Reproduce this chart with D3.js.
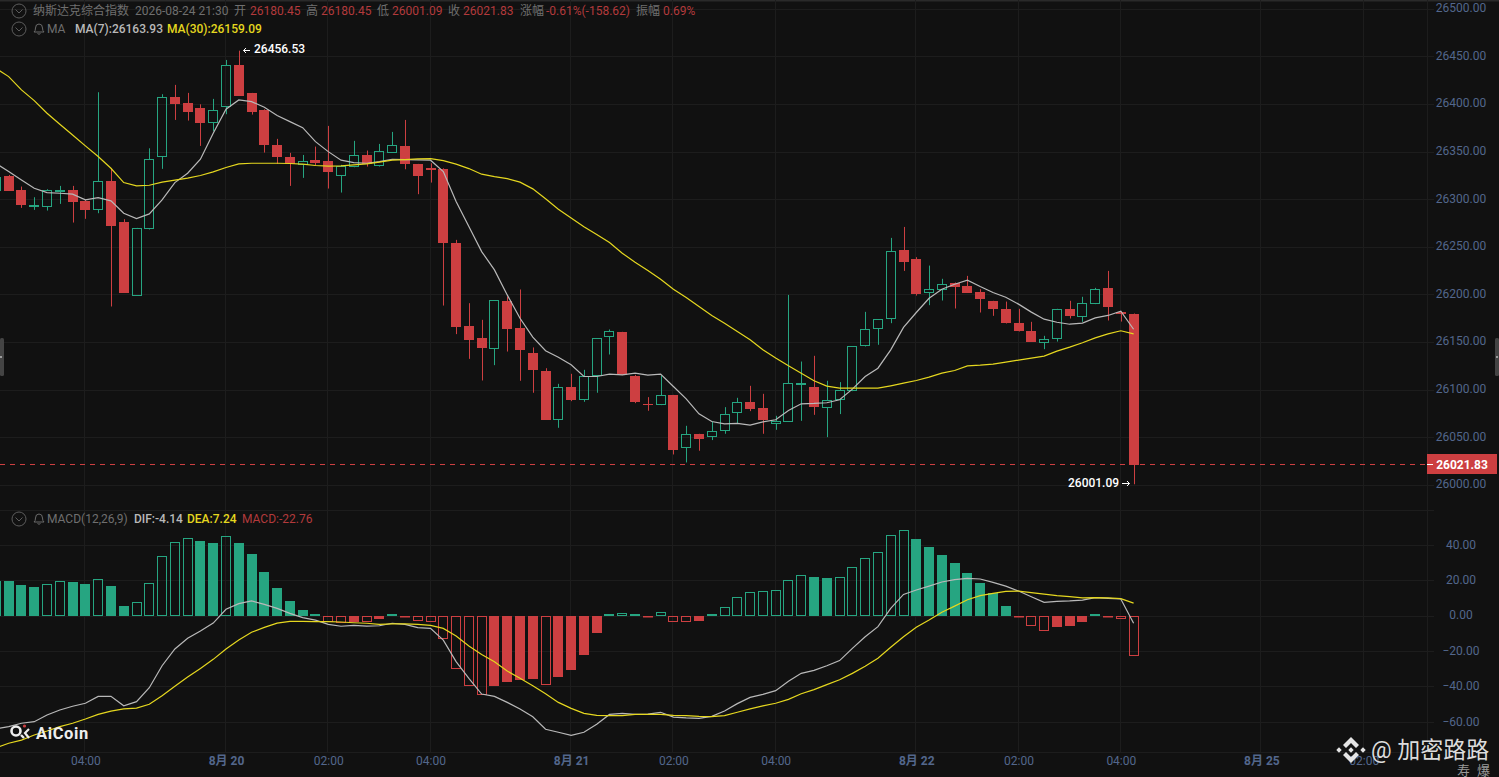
<!DOCTYPE html>
<html><head><meta charset="utf-8">
<script src="https://cdn.jsdelivr.net/npm/d3@7/dist/d3.min.js"></script>
<style>
html,body{margin:0;padding:0;background:#111;overflow:hidden}
svg{display:block}
text{font-family:Roboto,"Noto Sans CJK SC",sans-serif}
</style></head><body>
<svg id="c" width="1499" height="777"></svg>
<script>
// slot 0 is the partly hidden candle at the left edge
const opens=[26309.6,26325.0,26310.3,26292.8,26292.8,26308.5,26310.0,26298.8,26289.6,26319.4,
26276.7,26199.3,26268.7,26344.6,26407.6,26401.6,26396.4,26381.0,26397.1,26441.6,
26412.2,26394.0,26357.6,26345.0,26336.9,26341.8,26340.4,26325.4,26334.1,26347.0,
26335.9,26349.5,26356.5,26337.6,26333.0,26332.3,26254.7,26167.5,26154.6,26143.0,
26193.8,26165.4,26139.2,26120.2,26068.5,26103.5,26090.1,26114.3,26155.6,26161.2,
26115.0,26085.6,26084.2,26095.0,26038.7,26054.1,26050.3,26056.9,26075.8,26087.4,
26081.4,26064.3,26067.0,26105.9,26103.5,26080.7,26090.1,26098.9,26145.8,26164.0,
26174.2,26247.3,26237.9,26202.5,26204.9,26212.3,26209.5,26202.8,26193.8,26185.4,
26170.6,26162.3,26150.0,26153.5,26185.0,26176.6,26190.3,26207.0,26181.8,26180.45];
const closes=[26324.3,26309.2,26294.6,26294.2,26310.0,26310.0,26298.0,26289.3,26319.4,26272.5,
26202.5,26270.0,26342.5,26407.6,26400.6,26392.6,26380.6,26394.0,26441.2,26409.0,
26392.6,26357.9,26345.0,26337.3,26341.1,26338.7,26329.2,26335.9,26346.7,26337.6,
26350.9,26357.2,26337.9,26325.4,26331.3,26255.0,26165.8,26153.1,26143.7,26194.5,
26163.7,26141.6,26120.6,26069.1,26103.1,26090.1,26114.7,26154.6,26161.9,26115.7,
26087.0,26083.9,26094.7,26037.6,26053.8,26048.2,26056.9,26074.8,26087.4,26080.4,
26068.8,26067.4,26107.3,26107.3,26081.8,26089.1,26100.0,26146.2,26164.0,26174.5,
26245.9,26234.7,26201.4,26206.0,26211.2,26207.8,26202.5,26195.2,26185.7,26170.0,
26161.6,26151.0,26153.5,26185.0,26178.3,26191.3,26206.0,26187.8,26180.4,26021.83];
const highs=[26326.0,26326.0,26313.8,26302.6,26311.0,26314.5,26314.5,26299.8,26412.9,26333.0,
26279.5,26270.4,26354.0,26410.8,26420.6,26412.2,26400.2,26405.9,26446.8,26456.53,
26412.2,26395.0,26363.9,26349.2,26347.0,26355.8,26377.5,26336.6,26361.8,26351.6,
26358.6,26371.2,26383.8,26337.6,26338.3,26333.0,26257.8,26191.3,26173.8,26194.5,
26198.3,26205.7,26144.8,26123.0,26106.6,26117.1,26121.3,26154.6,26163.7,26161.2,
26116.0,26092.6,26115.4,26095.0,26062.5,26054.1,26067.0,26082.1,26091.9,26104.5,
26096.1,26073.0,26200.0,26130.0,26136.0,26109.8,26108.4,26146.2,26182.2,26174.5,
26259.9,26271.4,26239.6,26230.8,26216.9,26213.0,26220.0,26206.0,26193.8,26193.0,
26185.4,26171.7,26157.0,26185.4,26193.8,26198.0,26207.4,26225.2,26182.5,26180.45];
const lows=[26305.0,26309.2,26291.4,26289.3,26288.6,26295.6,26276.0,26279.9,26285.8,26187.8,
26202.5,26199.3,26268.7,26332.4,26383.8,26383.1,26356.5,26371.9,26389.8,26409.0,
26389.4,26349.5,26337.6,26314.5,26322.9,26336.2,26311.7,26307.5,26334.1,26334.8,
26334.8,26349.5,26332.0,26305.8,26318.0,26188.8,26158.8,26132.8,26110.1,26126.2,
26140.5,26109.8,26097.2,26069.1,26060.4,26088.4,26087.7,26097.2,26137.4,26115.7,
26086.3,26078.3,26084.2,26032.4,26024.0,26036.3,26047.5,26054.1,26065.3,26077.9,
26054.1,26058.3,26067.0,26067.7,26074.0,26050.6,26074.8,26098.9,26145.8,26147.6,
26170.3,26225.2,26199.3,26189.2,26194.1,26185.7,26202.5,26181.5,26178.0,26170.0,
26161.6,26151.0,26143.0,26151.0,26175.2,26171.7,26190.3,26173.1,26172.0,26001.09];
const ma7=[26338.3,26329.5,26320.8,26312.0,26307.5,26306.8,26305.8,26299.8,26302.2,26298.8,
26285.8,26280.2,26285.1,26299.8,26318.0,26327.8,26342.5,26369.8,26395.0,26404.8,
26403.0,26397.1,26388.4,26382.0,26375.7,26361.0,26350.5,26341.5,26339.0,26338.3,
26340.0,26342.5,26342.2,26341.8,26341.5,26329.5,26298.0,26271.8,26245.5,26226.3,
26200.0,26175.5,26155.6,26141.3,26134.6,26126.6,26114.3,26114.3,26116.8,26116.0,
26117.8,26115.7,26116.8,26103.8,26090.8,26075.1,26067.0,26064.6,26065.0,26063.2,
26066.7,26068.8,26078.6,26085.6,26086.0,26086.7,26089.8,26101.0,26114.3,26123.0,
26142.3,26165.8,26181.5,26196.5,26206.0,26211.2,26215.5,26208.8,26202.5,26197.6,
26190.3,26181.9,26174.5,26171.3,26169.2,26170.3,26175.9,26178.4,26182.9,26163.93];
const ma30=[26438.0,26429.3,26415.3,26404.1,26390.8,26379.2,26368.0,26356.5,26345.3,26333.0,
26318.0,26314.5,26315.2,26318.4,26320.5,26322.6,26325.4,26329.2,26333.8,26337.6,
26338.3,26338.3,26338.3,26338.0,26337.3,26335.9,26335.2,26335.5,26336.6,26337.6,
26339.4,26341.5,26342.2,26342.9,26343.2,26341.1,26337.3,26332.7,26326.8,26324.3,
26322.2,26318.4,26311.4,26300.9,26290.0,26280.9,26271.5,26263.4,26255.0,26243.8,
26234.3,26225.6,26216.5,26206.0,26197.2,26187.8,26178.3,26170.3,26161.6,26152.8,
26142.3,26133.6,26125.5,26117.8,26109.8,26104.2,26102.0,26102.0,26102.0,26102.0,
26104.5,26107.3,26110.1,26113.6,26117.8,26120.6,26125.5,26126.2,26127.3,26129.3,
26131.5,26133.6,26135.7,26140.9,26145.1,26149.7,26154.9,26159.1,26162.3,26159.09];
const macdHist=[19.8,19.8,17.5,16.4,17.9,19.6,19.2,18.1,20.7,16.9,
5.6,7.7,18.5,33.7,41.6,43.9,42.4,41.2,45.0,41.2,
35.0,24.9,15.8,8.5,3.4,1.1,-3.2,-4.1,-3.4,-3.5,
-1.5,1.1,-0.6,-2.6,-3.2,-12.8,-29.8,-39.7,-44.8,-39.4,
-37.3,-36.2,-35.6,-38.8,-34.5,-30.5,-21.8,-9.4,0.9,1.9,
0.9,-0.6,2.1,-3.2,-3.3,-2.8,0.9,4.9,10.5,13.4,
13.9,14.5,20.2,23.0,22.0,21.5,21.8,27.5,32.6,36.0,
45.6,48.4,43.5,39.0,34.5,29.9,24.3,18.6,13.0,5.5,
-0.7,-5.5,-8.3,-6.0,-5.5,-3.2,1.1,-0.6,-1.5,-22.76];
const dif=[-63.8,-62.5,-60.6,-59.7,-55.9,-53.1,-51.0,-49.3,-45.4,-45.4,
-50.7,-48.4,-40.5,-28.1,-18.6,-12.6,-8.5,-4.0,3.8,7.0,
8.5,6.6,4.3,1.5,-0.9,-2.3,-4.7,-5.8,-5.3,-5.7,
-5.5,-4.1,-4.7,-6.6,-7.0,-13.6,-25.8,-35.2,-44.1,-45.4,
-48.8,-52.5,-56.9,-64.0,-65.7,-67.4,-65.7,-61.2,-55.6,-55.0,
-55.6,-55.4,-54.4,-57.1,-57.6,-57.8,-56.7,-53.7,-49.5,-46.0,
-44.3,-42.2,-36.9,-32.4,-30.7,-28.1,-25.2,-18.3,-11.7,-6.0,
4.3,12.2,14.7,16.9,19.2,20.5,21.3,20.9,19.0,16.9,
14.1,10.9,7.7,8.3,8.5,9.0,10.4,10.0,9.6,-4.14];
const dea=[-74.4,-71.9,-70.1,-67.2,-65.0,-62.5,-60.6,-58.2,-55.6,-53.7,
-52.5,-52.0,-49.9,-45.0,-39.7,-34.5,-29.6,-24.5,-18.6,-13.6,
-9.2,-6.4,-4.0,-3.0,-3.0,-3.2,-3.2,-3.4,-3.8,-4.1,
-4.7,-4.5,-4.5,-4.7,-5.3,-7.0,-11.3,-17.0,-21.7,-25.8,
-31.1,-35.2,-39.4,-43.9,-48.8,-52.2,-55.0,-56.1,-56.3,-56.3,
-55.6,-55.6,-55.6,-56.1,-56.3,-56.7,-56.9,-56.3,-54.4,-52.5,
-50.8,-49.3,-47.1,-43.9,-41.6,-38.8,-36.0,-32.4,-28.4,-23.9,
-17.7,-11.7,-6.4,-2.3,2.1,5.6,9.2,11.5,12.8,13.9,
14.1,13.2,12.4,11.5,10.9,10.2,10.4,10.2,9.8,7.24];
const priceTicks=[26000,26050,26100,26150,26200,26250,26300,26350,26400,26450,26500];
const macdTicks=[-60,-40,-20,0,20,40];
const timeTickSlots=[7,18,26,34,45,53,61,72,80,88,99,107];
const timeTickLabels=["04:00","8月 20","02:00","04:00","8月 21","02:00","04:00","8月 22","02:00","04:00","8月 25","02:00"];
const lastClose=26021.83, highMark=26456.53, lowMark=26001.09;

const RED="#cd3f41",GREEN="#26a581",GRID="#1d1d1d",AXIS="#53678c",GREY="#6f6f6f",LGREY="#b9b9b9",YEL="#e5d71f";
const svg=d3.select("#c");
const W=1499,H=777,AX=1427;
svg.append("rect").attr("width",W).attr("height",H).attr("fill","#111");
svg.append("rect").attr("width",W).attr("height",1.5).attr("fill","#2a2a2a");

const x=d3.scaleLinear().domain([0,89]).range([-4.1,1133.6]);
const py=d3.scaleLinear().domain([26000,26500]).range([485.3,9.3]);
const my=d3.scaleLinear().domain([-60,40]).range([722.2,545.2]);
const cr=v=>Math.floor(v)+.5;
const px=i=>Math.round(x(i));

// grid
const grid=svg.append("g").attr("stroke",GRID).attr("stroke-width",1);
timeTickSlots.forEach(s=>grid.append("line").attr("x1",cr(x(s)-.5)).attr("x2",cr(x(s)-.5)).attr("y1",0).attr("y2",752));
grid.append("line").attr("x1",AX+.5).attr("x2",AX+.5).attr("y1",0).attr("y2",752);
priceTicks.forEach(t=>grid.append("line").attr("x1",0).attr("x2",AX+7).attr("y1",cr(py(t))).attr("y2",cr(py(t))));
macdTicks.forEach(t=>grid.append("line").attr("x1",0).attr("x2",AX+7).attr("y1",cr(my(t))).attr("y2",cr(my(t))));
grid.append("line").attr("x1",0).attr("x2",AX+7).attr("y1",510.5).attr("y2",510.5);
grid.append("line").attr("x1",0).attr("x2",AX+7).attr("y1",752.5).attr("y2",752.5);

// price dashed line
svg.append("line").attr("x1",0).attr("x2",AX).attr("y1",cr(py(lastClose))).attr("y2",cr(py(lastClose)))
  .attr("stroke",RED).attr("stroke-dasharray","5,5");

// candles
const cg=svg.append("g");
opens.forEach((o,i)=>{
  const c=closes[i],up=c>=o,col=up?GREEN:RED,hi=Math.max(o,c),lo=Math.min(o,c),X=px(i);
  const top=Math.round(py(hi)),bot=Math.round(py(lo));
  cg.append("line").attr("x1",X+.5).attr("x2",X+.5).attr("y1",py(highs[i])).attr("y2",top).attr("stroke",col);
  cg.append("line").attr("x1",X+.5).attr("x2",X+.5).attr("y1",bot).attr("y2",py(lows[i])).attr("stroke",col);
  if(up) cg.append("rect").attr("x",X-4.5).attr("y",top+.5).attr("width",9).attr("height",Math.max(bot-top-1,1)).attr("fill","none").attr("stroke",col);
  else cg.append("rect").attr("x",X-5).attr("y",top).attr("width",10).attr("height",Math.max(bot-top,1)).attr("fill",col);
});

// histogram
const hg=svg.append("g"),z=my(0);
macdHist.forEach((v,i)=>{
  const prev=i?macdHist[i-1]:v,col=v>=0?GREEN:RED,X=px(i);
  const grow=Math.abs(v)>Math.abs(prev)&&(v>=0)===(prev>=0)||(v>=0)!==(prev>=0)&&Math.abs(v)>2;
  const y1=Math.min(my(v),z),h=Math.abs(my(v)-z);
  if(grow) hg.append("rect").attr("x",X-4.5).attr("y",Math.round(y1)+.5).attr("width",9).attr("height",Math.max(Math.round(h)-1,1)).attr("fill","none").attr("stroke",col);
  else hg.append("rect").attr("x",X-5).attr("y",Math.round(y1)).attr("width",10).attr("height",Math.max(Math.round(h),1.5)).attr("fill",col);
});

// lines
const lineOf=(arr,sc)=>d3.line().x((d,i)=>x(i)).y(d=>sc(d))(arr);
[[ma7,py,LGREY],[ma30,py,YEL],[dif,my,LGREY],[dea,my,YEL]].forEach(([a,s,c])=>
  svg.append("path").attr("d",lineOf(a,s)).attr("fill","none").attr("stroke",c).attr("stroke-width",1.2));

// axes
const styleAxis=g=>{g.select(".domain").remove();g.selectAll("line").remove();
  g.selectAll("text").attr("fill",AXIS).attr("font-size",12).attr("text-anchor","middle").attr("font-family",'Roboto,"Noto Sans CJK SC",sans-serif');};
svg.append("g").attr("transform","translate(1461,-1.5)").call(d3.axisRight(py).tickValues(priceTicks).tickFormat(d3.format(".2f")).tickSize(0).tickPadding(0)).call(styleAxis);
svg.append("g").attr("transform","translate(1461,-1)").call(d3.axisRight(my).tickValues(macdTicks).tickFormat(d3.format(".2f")).tickSize(0).tickPadding(0)).call(styleAxis);
const tAxis=d3.axisBottom(x).tickValues(timeTickSlots).tickFormat((d,i)=>timeTickLabels[i]).tickSize(0).tickPadding(0);
svg.append("g").attr("transform","translate(0,751)").call(tAxis).call(styleAxis).selectAll("text").attr("y",5)
  .attr("font-weight",(d,i)=>timeTickLabels[i].includes("月")?"700":"400");

// last price tag
svg.append("rect").attr("x",AX).attr("y",454).attr("width",70).attr("height",20).attr("fill",RED);
svg.append("line").attr("x1",AX).attr("x2",AX+6).attr("y1",cr(py(lastClose))).attr("y2",cr(py(lastClose))).attr("stroke","#fff");
const T=(s,xp,yp,col,opt={})=>svg.append("text").attr("x",xp).attr("y",yp).attr("fill",col).attr("font-size",opt.size||12)
  .attr("font-weight",opt.w||400).attr("text-anchor",opt.a||"start").attr("opacity",opt.o||1).text(s);
T(d3.format(".2f")(lastClose),1462,468.5,"#fff",{a:"middle",w:700});

// high/low marks
svg.append("path").attr("d","M250 50.5H243.5M246 48L243.5 50.5L246 53").attr("fill","none").attr("stroke","#fff");
T(d3.format(".2f")(highMark),254,53,"#fff",{w:500});
T(d3.format(".2f")(lowMark),1068,487,"#fff",{w:500});
svg.append("path").attr("d","M1122 483.5H1129.5M1127 481L1129.5 483.5L1127 486").attr("fill","none").attr("stroke","#fff");

// header texts
const R2="#b33a3c";
[["纳斯达克综合指数",33,GREY],["2026-08-24 21:30",135,GREY],["开",234,GREY],["26180.45",250,R2],["高",306,GREY],["26180.45",321,R2],
 ["低",377,GREY],["26001.09",392,R2],["收",448,GREY],["26021.83",463,R2],["涨幅",520,GREY],["-0.61%(-158.62)",546,R2],["振幅",636,GREY],["0.69%",663,R2]]
 .forEach(([s,a,c])=>T(s,a,15,c));
T("MA",47,33,GREY);T("MA(7):26163.93",75,33,LGREY,{w:500});T("MA(30):26159.09",167,33,YEL,{w:500});
T("MACD(12,26,9)",47,523,GREY);T("DIF:-4.14",134,523,LGREY,{w:500});T("DEA:7.24",187,523,YEL,{w:500});T("MACD:-22.76",242,523,R2);

// small icons
const chev=(cx,cy)=>{svg.append("circle").attr("cx",cx).attr("cy",cy).attr("r",7).attr("fill","none").attr("stroke","#5c5c5c");
  svg.append("path").attr("d",`M${cx-3.5} ${cy-1.5}L${cx} ${cy+2}L${cx+3.5} ${cy-1.5}`).attr("fill","none").attr("stroke","#5c5c5c");};
const bell=(cx,cy)=>svg.append("path").attr("d",`M${cx-5} ${cy+3}Q${cx-3.5} ${cy+2} ${cx-3.5} ${cy-1}Q${cx-3.5} ${cy-5} ${cx} ${cy-5}Q${cx+3.5} ${cy-5} ${cx+3.5} ${cy-1}Q${cx+3.5} ${cy+2} ${cx+5} ${cy+3}ZM${cx-1.5} ${cy+4.5}Q${cx} ${cy+6} ${cx+1.5} ${cy+4.5}`).attr("fill","none").attr("stroke","#6a6a6a");
chev(19,11);chev(19,29);chev(19,519);bell(39,29);bell(39,519);

// side handles
[0,1495].forEach(a=>svg.append("rect").attr("x",a).attr("y",338).attr("width",4).attr("height",38).attr("rx",1.5).attr("fill","#444"));
svg.append("circle").attr("cx",1).attr("cy",357).attr("r",1).attr("fill","#bbb");
svg.append("circle").attr("cx",1497).attr("cy",357).attr("r",1).attr("fill","#bbb");

// logo
svg.append("circle").attr("cx",16).attr("cy",731).attr("r",4.5).attr("fill","none").attr("stroke","#eee").attr("stroke-width",2.6);
svg.append("path").attr("d","M21 735L24 738").attr("fill","none").attr("stroke","#eee").attr("stroke-width",2.4);
svg.append("path").attr("d","M29 729L25 733L29 738").attr("fill","none").attr("stroke","#eee").attr("stroke-width",2.2);
svg.append("circle").attr("cx",24.5).attr("cy",726).attr("r",1.6).attr("fill",RED);
T("AiCoin",36,739,"#eee",{size:16.5,w:700}).attr("letter-spacing",".6");

// watermark
const wm=svg.append("g").attr("fill","#e4e4e4");
const ds=(cx,cy,r)=>wm.append("path").attr("d",`M${cx} ${cy-r}L${cx+r} ${cy}L${cx} ${cy+r}L${cx-r} ${cy}Z`);
ds(1351,750,2.7);ds(1339,750,2.7);ds(1363,750,2.7);
wm.append("path").attr("d","M1351 737L1359 745L1356 748L1351 743L1346 748L1343 745Z");
wm.append("path").attr("d","M1351 763L1359 755L1356 752L1351 757L1346 752L1343 755Z");
T("@ 加密路路",1371,758,"#dcdcdc",{size:23});
T("寿",1457,775,"#9a9a9a",{size:13});
T("爆",1477,775,"#9a9a9a",{size:13});
</script>
</body></html>
